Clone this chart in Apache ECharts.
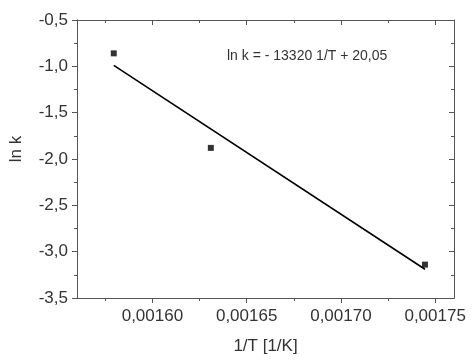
<!DOCTYPE html>
<html>
<head>
<meta charset="utf-8">
<script src="https://cdn.jsdelivr.net/npm/echarts@6/dist/echarts.min.js"></script>
<style>
html,body{margin:0;padding:0;background:#fff;}
#c{width:474px;height:361px;}
</style>
</head>
<body>
<div id="c"></div>
<script>
// Data
const invT = [0.0015795, 0.001631, 0.0017446];
const lnK = [-0.86, -1.88, -3.14];
const fitX = [0.0015795, 0.0017446];
const fitY = [-0.99, -3.19];
const xMajorTicks = [0.0016, 0.00165, 0.0017, 0.00175];
const xMinorTicks = [0.001575, 0.001625, 0.001675, 0.001725];
const equationText = 'ln k = - 13320 1/T + 20,05';
const xName = '1/T [1/K]';
const yName = 'ln k';

const FONT = 'Liberation Sans, Arial, sans-serif';
const TXT = '#333';
const AX = '#555';
const xMin = 0.00156, xMax = 0.00176;

const chart = echarts.init(document.getElementById('c'), null, {renderer: 'canvas'});
const fmtX = v => v.toFixed(5).replace('.', ',');
const fmtY = v => v.toFixed(1).replace('.', ',');

function xAx(pos, ticks, len, inside, showLabel, extra) {
  return Object.assign({
    type: 'value', position: pos, min: xMin, max: xMax,
    axisLine: {show: true, onZero: false, lineStyle: {color: AX, width: 1}},
    axisTick: {show: true, inside: inside, length: len, customValues: ticks, lineStyle: {color: AX}},
    axisLabel: {show: showLabel, customValues: ticks, formatter: fmtX, fontFamily: FONT, fontSize: 17, color: TXT, margin: 10},
    splitLine: {show: false}
  }, extra || {});
}

chart.setOption({
  animation: false,
  backgroundColor: '#fff',
  grid: {left: 76, right: 20, top: 20, bottom: 63, containLabel: false},
  xAxis: [
    xAx('bottom', xMajorTicks, 5, false, true, {name: xName, nameLocation: 'middle', nameGap: 40,
      nameTextStyle: {fontFamily: FONT, fontSize: 17, color: TXT}}),
    xAx('bottom', xMinorTicks, 3, false, false),
    xAx('top', xMajorTicks, 5, true, false),
    xAx('top', xMinorTicks, 3, true, false)
  ],
  yAxis: [
    {type: 'value', position: 'left', min: -3.5, max: -0.5, interval: 0.5,
     axisLine: {show: true, onZero: false, lineStyle: {color: AX}},
     axisTick: {show: true, inside: false, length: 5, lineStyle: {color: AX}},
     minorTick: {show: true, splitNumber: 2, length: 3, lineStyle: {color: AX}},
     axisLabel: {formatter: fmtY, fontFamily: FONT, fontSize: 17, color: TXT, margin: 9},
     splitLine: {show: false},
     name: yName, nameLocation: 'middle', nameGap: 52, nameRotate: 90,
     nameTextStyle: {fontFamily: FONT, fontSize: 17, color: TXT, padding: [0, 0, 0, 20]}},
    {type: 'value', position: 'right', min: -3.5, max: -0.5, interval: 0.5,
     axisLine: {show: true, onZero: false, lineStyle: {color: AX}},
     axisTick: {show: true, inside: true, length: 5, lineStyle: {color: AX}},
     minorTick: {show: true, splitNumber: 2, length: 3, lineStyle: {color: AX}},
     axisLabel: {show: false},
     splitLine: {show: false}}
  ],
  series: [
    {type: 'line', xAxisIndex: 0, yAxisIndex: 0, data: fitX.map((x, i) => [x, fitY[i]]),
     symbol: 'none', lineStyle: {color: '#000', width: 1.6}, z: 2},
    {type: 'scatter', xAxisIndex: 0, yAxisIndex: 0, data: invT.map((x, i) => [x, lnK[i]]),
     symbol: 'rect', symbolSize: 6, itemStyle: {color: '#000'}, z: 3}
  ],
  graphic: [
    {type: 'text', left: 227, top: 49,
     style: {text: equationText, fontFamily: FONT, fontSize: 14, fill: TXT}}
  ]
});
</script>
</body>
</html>
